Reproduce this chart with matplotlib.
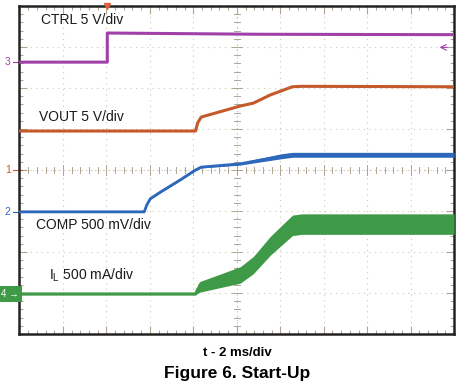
import matplotlib
matplotlib.use("Agg")
import matplotlib.pyplot as plt
import numpy as np

plt.rcParams['font.family'] = ['Liberation Sans', 'DejaVu Sans']

# Data in oscilloscope divisions (x: 0..10, y: 0..8)
ctrl_x = [0, 2.02, 2.02, 5.5, 10]
ctrl_y = [6.63, 6.63, 7.34, 7.31, 7.30]

vout_x = [0, 4.05, 4.10, 4.18, 5.08, 5.38, 5.77, 6.28, 6.5, 10]
vout_y = [4.95, 4.95, 5.15, 5.29, 5.56, 5.63, 5.83, 6.03, 6.04, 6.03]

comp_x = [0, 2.87, 2.93, 3.01, 3.24, 3.70, 4.05, 4.18, 5.08, 5.38, 6.0, 6.28, 10]
comp_y = [2.98, 2.98, 3.15, 3.30, 3.46, 3.76, 4.0, 4.07, 4.15, 4.21, 4.33, 4.37, 4.37]
comp_hw = [0.02, 0.02, 0.02, 0.02, 0.02, 0.02, 0.02, 0.02, 0.03, 0.04, 0.06, 0.06, 0.06]

il_x = [0, 4.05, 4.10, 4.15, 5.08, 5.38, 5.77, 6.28, 6.5, 10]
il_y = [0.98, 0.98, 1.10, 1.15, 1.44, 1.68, 2.15, 2.65, 2.68, 2.68]
il_hw = [0.03, 0.03, 0.11, 0.13, 0.20, 0.21, 0.23, 0.25, 0.25, 0.25]

labels = ["CTRL 5 V/div", "VOUT 5 V/div", "COMP 500 mV/div", "I$_\\mathregular{L}$ 500 mA/div"]
label_x = [0.5, 0.44, 0.37, 0.67]
label_y = [7.66, 5.29, 2.66, 1.44]

markers = ["3", "1", "2", "4"]
marker_y = [6.63, 4.0, 2.98, 0.98]

c_ctrl = "#a040a8"
c_vout = "#c45a2c"
c_comp = "#2e68bc"
c_il = "#3f9a48"
marker_colors = [c_ctrl, c_vout, c_comp, "white"]

fig = plt.figure(figsize=(4.74, 3.85), dpi=100)
ax = fig.add_axes([0.0411, 0.1325, 0.917, 0.852])
ax.set_xlim(0, 10)
ax.set_ylim(0, 8)

grid_c = "#cfc6b6"
tick_c = "#b0a590"
# dotted grid
for gx in range(1, 10):
    ax.axvline(gx, color=grid_c, lw=0.8, ls=(0, (1, 4)), zorder=0)
for gy in range(1, 8):
    ax.axhline(gy, color=grid_c, lw=0.8, ls=(0, (1, 4)), zorder=0)
# center lines with ticks
ax.axhline(4, color=grid_c, lw=0.8, ls=(0, (1, 3)), zorder=0)
ax.axvline(5, color=grid_c, lw=0.8, ls=(0, (1, 3)), zorder=0)
for t in np.arange(0, 10.01, 0.2):
    h = 0.12 if abs(t - round(t)) < 1e-6 else 0.07
    ax.plot([t, t], [4 - h, 4 + h], color=tick_c, lw=0.7, zorder=0)
for t in np.arange(0, 8.01, 0.2):
    h = 0.12 if abs(t - round(t)) < 1e-6 else 0.07
    ax.plot([5 - h, 5 + h], [t, t], color=tick_c, lw=0.7, zorder=0)

# traces
ax.plot(ctrl_x, ctrl_y, color=c_ctrl, lw=2.2, zorder=3)
ax.plot(vout_x, vout_y, color=c_vout, lw=2.2, zorder=3)
cy = np.array(comp_y); ch = np.array(comp_hw)
ax.fill_between(comp_x, cy - ch, cy + ch, color=c_comp, lw=0, zorder=3)
ax.plot(comp_x, comp_y, color=c_comp, lw=2.0, zorder=3)
iy = np.array(il_y); ih = np.array(il_hw)
ax.fill_between(il_x, iy - ih, iy + ih, color=c_il, lw=0, zorder=3)
ax.plot(il_x, il_y, color=c_il, lw=2.0, zorder=3)

for s, x, y in zip(labels, label_x, label_y):
    ax.text(x, y, s, fontsize=10, color="#1a1a1a", va="center", ha="left", zorder=4)

# channel markers on left
for m, y, c in zip(markers, marker_y, marker_colors):
    if m == "4":
        ax.text(-0.22, y, "4 \u2192", fontsize=7, color="white", va="center", ha="center",
                clip_on=False, bbox=dict(boxstyle="square,pad=0.3", fc=c_il, ec="none"))
    else:
        ax.text(-0.27, y, m, fontsize=7.5, color=c, va="center", ha="center", clip_on=False)
        ax.plot([-0.14, 0.05], [y, y], color=c, lw=0.8, clip_on=False)

# trigger marker on top and level arrow on right
ax.plot([2.02], [8.0], marker="v", color="#e0603a", ms=5, clip_on=False, zorder=5)
ax.annotate("", xy=(9.6, 6.99), xytext=(9.9, 6.99),
            arrowprops=dict(arrowstyle="->", color=c_ctrl, lw=0.8))

# ticks on edges
ax.set_xticks(np.arange(0, 10.01, 1))
ax.set_yticks(np.arange(0, 8.01, 1))
ax.set_xticks(np.arange(0, 10.01, 0.2), minor=True)
ax.set_yticks(np.arange(0, 8.01, 0.2), minor=True)
ax.tick_params(which="both", direction="in", top=True, right=True, colors=tick_c,
               labelbottom=False, labelleft=False)
ax.tick_params(which="major", length=6, width=0.8)
ax.tick_params(which="minor", length=3, width=0.8)
for sp in ax.spines.values():
    sp.set_color("#222222")
    sp.set_linewidth(1.8)

fig.text(0.5, 0.083, "t - 2 ms/div", ha="center", va="center", fontsize=9.5, fontweight="bold")
fig.text(0.5, 0.03, "Figure 6. Start-Up", ha="center", va="center", fontsize=12.5, fontweight="bold")

fig.savefig("out.png", dpi=100)
